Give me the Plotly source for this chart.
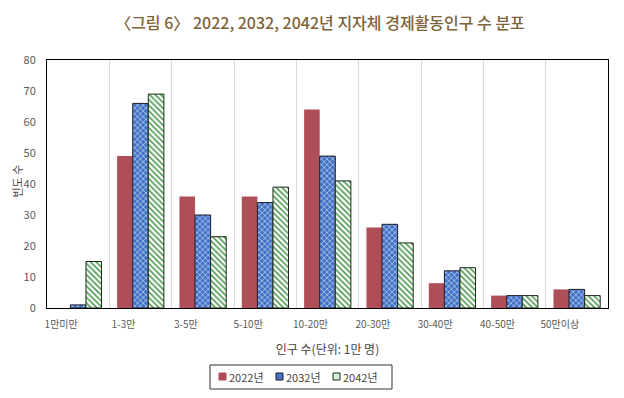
import plotly.graph_objects as go

categories = ["1만미만", "1-3만", "3-5만", "5-10만", "10-20만", "20-30만", "30-40만", "40-50만", "50만이상"]
v2022 = [0, 49, 36, 36, 64, 26, 8, 4, 6]
v2032 = [1, 66, 30, 34, 49, 27, 12, 4, 6]
v2042 = [15, 69, 23, 39, 41, 21, 13, 4, 4]
series_names = ["2022년", "2032년", "2042년"]

FONT = "Noto Sans CJK KR"
RED, BLUE, GREEN = "#AE4E58", "#4472C4", "#4E9A50"

W, H = 624, 398
ML, MR, MT, MB = 39, 24, 52, 98

fig = go.Figure()
fig.add_trace(go.Bar(name=series_names[0], x=categories, y=v2022,
                     marker=dict(color=RED, line=dict(width=0))))
fig.add_trace(go.Bar(name=series_names[1], x=categories, y=v2032,
                     marker=dict(color=BLUE, line=dict(width=1, color="#1a1a2a"),
                                 pattern=dict(shape="x", bgcolor=BLUE, fgcolor="#B4CCF0",
                                              size=4, solidity=0.35, fillmode="replace"))))
fig.add_trace(go.Bar(name=series_names[2], x=categories, y=v2042,
                     marker=dict(color="#ffffff", line=dict(width=1, color="#1a2a1a"),
                                 pattern=dict(shape="\\", bgcolor="#ffffff", fgcolor=GREEN,
                                              size=4, solidity=0.4, fillmode="replace"))))

# custom compact legend (paper coords from pixel layout)
pw, ph = W - ML - MR, H - MT - MB
def px(x):  # figure pixel -> paper x
    return (x - ML) / pw
def py(y):
    return (H - MB - y) / ph

shapes = [dict(type="rect", xref="paper", yref="paper",
               x0=px(202), x1=px(384), y0=py(381), y1=py(357),
               line=dict(color="#333333", width=1), fillcolor="white")]
annotations = []
sw_x = [211, 268, 325]
sw_fill = [RED, BLUE, "#D8EED8"]
sw_line = [RED, "#1a1a2a", "#1a2a1a"]
for i, name in enumerate(series_names):
    shapes.append(dict(type="rect", xref="paper", yref="paper",
                       x0=px(sw_x[i]), x1=px(sw_x[i] + 7), y0=py(372), y1=py(365),
                       line=dict(color=sw_line[i], width=1), fillcolor=sw_fill[i]))
    annotations.append(dict(text=name, xref="paper", yref="paper",
                            x=px(sw_x[i] + 8), y=py(369), xanchor="left", yanchor="middle",
                            showarrow=False, font=dict(family=FONT, size=11, color="#444444")))

# y-axis title as rotated annotation
annotations.append(dict(text="빈도 수", xref="paper", yref="paper", x=px(9), y=0.51,
                        xanchor="center", yanchor="middle", textangle=-90, showarrow=False,
                        font=dict(family=FONT, size=11, color="#444444")))

fig.update_layout(
    width=W, height=H,
    paper_bgcolor="white", plot_bgcolor="white",
    margin=dict(l=ML, r=MR, t=MT, b=MB, autoexpand=False),
    barmode="group", bargap=0.25, bargroupgap=0,
    font=dict(family=FONT, size=11, color="#595959"),
    title=dict(text="〈그림 6〉 2022, 2032, 2042년 지자체 경제활동인구 수 분포",
               x=0.5, xanchor="center", y=0.962, yanchor="middle",
               font=dict(family=FONT, size=16, color="#7E6238", weight=500)),
    showlegend=False,
    shapes=shapes, annotations=annotations,
)
fig.update_xaxes(
    automargin=False,
    tickson="boundaries", showgrid=True, gridcolor="#D9D9D9", gridwidth=1,
    showline=True, linecolor="#000000", linewidth=1, mirror=True,
    ticks="", ticklabelshift=-17, ticklabelstandoff=7, tickfont=dict(size=10, color="#595959"),
    title=dict(text="인구 수(단위: 1만 명)", font=dict(size=12, color="#444444"), standoff=15),
)
fig.update_yaxes(
    automargin=False,
    range=[0, 80], dtick=10, showgrid=False, zeroline=False,
    showline=True, linecolor="#000000", linewidth=1, mirror=True,
    ticks="", ticklabelstandoff=8, tickfont=dict(size=11, color="#595959"),
)

fig.write_html("out.html")
